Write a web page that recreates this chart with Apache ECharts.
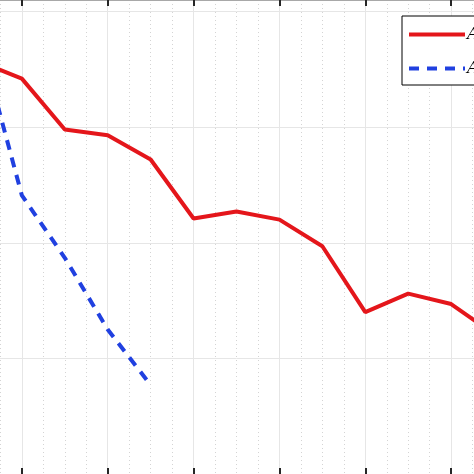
<!DOCTYPE html>
<html>
<head>
<meta charset="utf-8">
<script src="https://cdn.jsdelivr.net/npm/echarts@6/dist/echarts.min.js"></script>
<style>
  html, body { margin: 0; padding: 0; background: #fff; overflow: hidden; width: 474px; height: 474px; }
  /* the plot area is wider than the window; only part of it shows */
  #chart { position: absolute; left: -64px; top: 0; width: 601px; height: 480px; }
</style>
</head>
<body>
<div id="chart"></div>
<script>
// x positions of the samples
var xRed = [1, 2, 3, 4, 5, 6, 7, 8, 9, 10, 11, 12, 13]
var xBlue = [1, 2, 3, 4, 5]
// values
var redValues = [3.57, 3.42, 2.98, 2.93, 2.72, 2.21, 2.27, 2.20, 1.97, 1.40, 1.56, 1.47, 1.21]
var blueValues = [3.79, 2.41, 1.87, 1.25, 0.77]
var seriesNames = ['Approach 1', 'Approach 2']

function pairs (xs, ys) {
  var out = []
  for (var i = 0; i < xs.length; i++) {
    out.push([xs[i], ys[i]])
  }
  return out
}

var myChart = echarts.init(document.getElementById('chart'))
myChart.setOption({
  animation: false,
  backgroundColor: '#fff',
  grid: {
    left: 0,
    right: 0,
    top: 0,
    bottom: 6
  },
  legend: {
    orient: 'vertical',
    left: 466,
    top: 16,
    padding: [10, 8, 8, 5],
    itemWidth: 56,
    itemHeight: 14,
    itemGap: 17,
    backgroundColor: '#fff',
    borderColor: '#000',
    borderWidth: 1,
    borderRadius: 0,
    itemStyle: { opacity: 0 },
    lineStyle: { width: 4 },
    textStyle: {
      fontFamily: 'DejaVu Serif',
      fontStyle: 'italic',
      fontSize: 17,
      color: '#000',
      padding: [0, 0, 0, -3]
    },
    data: seriesNames
  },
  xAxis: [
    {
      type: 'value',
      min: 0,
      max: 14,
      interval: 2,
      position: 'bottom',
      axisLine: { show: true, lineStyle: { color: '#262626' } },
      axisTick: { show: true, inside: true, length: 6, lineStyle: { color: '#262626', width: 2 } },
      axisLabel: { show: false },
      splitLine: { show: true, lineStyle: { color: '#e6e6e6', width: 1 } },
      minorTick: { show: false, splitNumber: 4 },
      minorSplitLine: { show: true, lineStyle: { color: '#d4d4d4', width: 1, type: [1, 3] } }
    },
    {
      type: 'value',
      min: 0,
      max: 14,
      interval: 2,
      position: 'top',
      axisLine: { show: true, lineStyle: { color: '#a8a8a8', width: 2 } },
      axisTick: { show: true, inside: true, length: 6, lineStyle: { color: '#262626', width: 2 } },
      axisLabel: { show: false },
      splitLine: { show: false }
    }
  ],
  yAxis: {
    type: 'value',
    min: 0,
    max: 4.1,
    interval: 1,
    axisLine: { show: false },
    axisTick: { show: false },
    axisLabel: { show: false },
    splitLine: { show: true, lineStyle: { color: '#e6e6e6', width: 1 } }
  },
  series: [
    {
      name: seriesNames[0],
      type: 'line',
      symbol: 'none',
      data: pairs(xRed, redValues),
      itemStyle: { color: '#e4161b' },
      lineStyle: { color: '#e4161b', width: 4 },
      z: 3
    },
    {
      name: seriesNames[1],
      type: 'line',
      symbol: 'none',
      data: pairs(xBlue, blueValues),
      itemStyle: { color: '#2040e0' },
      lineStyle: { color: '#2040e0', width: 4, type: [10, 8] },
      z: 3
    }
  ]
})
</script>
</body>
</html>
